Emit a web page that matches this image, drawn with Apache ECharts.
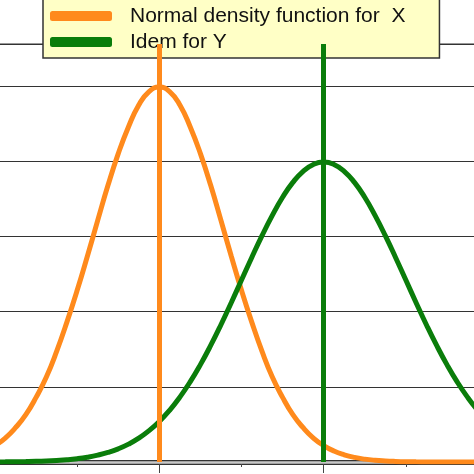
<!DOCTYPE html>
<html>
<head>
<meta charset="utf-8">
<script src="https://cdn.jsdelivr.net/npm/echarts@6/dist/echarts.min.js"></script>
<style>html,body{margin:0;padding:0;background:#fff}#c{width:474px;height:474px}</style>
</head>
<body>
<div id="c"></div>
<script>
// x positions where the curves were read
const xs = [0, 0.125, 0.25, 0.375, 0.5, 0.625, 0.75, 0.875, 1, 1.125, 1.25, 1.375, 1.5, 1.625, 1.75, 1.875, 2, 2.125, 2.25, 2.375, 2.5, 2.625, 2.75, 2.875, 3, 3.125, 3.25, 3.375, 3.5, 3.625, 3.75, 3.875, 4, 4.125, 4.25, 4.375, 4.5, 4.625, 4.75, 4.875, 5, 5.125, 5.25, 5.375, 5.5, 5.625, 5.75, 5.875, 6];
// Normal density function for X
const densX = [0.0219, 0.0318, 0.0456, 0.0630, 0.0860, 0.1130, 0.1471, 0.1860, 0.2283, 0.2740, 0.3214, 0.3680, 0.4102, 0.4460, 0.4750, 0.4928, 0.4987, 0.4928, 0.4750, 0.4460, 0.4102, 0.3680, 0.3214, 0.2740, 0.2283, 0.1860, 0.1471, 0.1130, 0.0860, 0.0630, 0.0456, 0.0318, 0.0219, 0.0146, 0.0096, 0.0061, 0.0038, 0.0023, 0.0014, 0.0008, 0.0004, 0.0002, 0.0001, 0.0000, 0.0000, 0.0000, 0.0000, 0.0000, 0.0000];
// Idem for Y
const densY = [0.0001, 0.0002, 0.0004, 0.0006, 0.0009, 0.0014, 0.0021, 0.0030, 0.0044, 0.0064, 0.0091, 0.0127, 0.0175, 0.0238, 0.0317, 0.0417, 0.0540, 0.0688, 0.0863, 0.1065, 0.1295, 0.1550, 0.1826, 0.2119, 0.2420, 0.2721, 0.3011, 0.3280, 0.3521, 0.3719, 0.3867, 0.3958, 0.3989, 0.3958, 0.3867, 0.3719, 0.3521, 0.3280, 0.3011, 0.2721, 0.2420, 0.2119, 0.1826, 0.1550, 0.1295, 0.1065, 0.0863, 0.0688, 0.0540];
const meanX = 2;
const meanY = 4;
const seriesNames = ['Normal density function for  X', 'Idem for Y'];

const chart = echarts.init(document.getElementById('c'), null, {renderer: 'canvas'});
const orange = '#ff8a1c';
const green = '#0a7d0a';
const axisCommon = {type: 'value', position: 'bottom', min: 0, max: 6, interval: 2, axisLabel: {show: false}, splitLine: {show: false}};
chart.setOption({
  animation: false,
  grid: {left: -5, right: -14, top: 44, bottom: 12, outerBoundsMode: 'none', containLabel: false,
         show: true, borderColor: '#333', borderWidth: 1.2, backgroundColor: 'transparent'},
  legend: {
    left: 43, top: -5, orient: 'vertical',
    itemWidth: 62, itemHeight: 10, itemGap: 4,
    icon: 'roundRect',
    backgroundColor: '#ffffc6', borderColor: '#333', borderWidth: 1.5, borderRadius: 0,
    padding: [10, 34, 5, 7],
    textStyle: {fontSize: 21, fontFamily: 'Liberation Sans', color: '#111', lineHeight: 22, padding: [0, 0, 0, 13]},
    data: seriesNames
  },
  xAxis: [
    Object.assign({}, axisCommon, {
      z: 1,
      axisLine: {show: true, lineStyle: {color: '#333', width: 5}},
      axisTick: {show: true, length: 11, lineStyle: {color: '#444', width: 1}},
      minorTick: {show: true, splitNumber: 2, length: 5, lineStyle: {color: '#444', width: 1}}
    }),
    Object.assign({}, axisCommon, {
      z: 2,
      axisLine: {show: true, lineStyle: {color: '#c8c8c8', width: 2.5}},
      axisTick: {show: false}
    })
  ],
  yAxis: {
    type: 'value', min: 0, max: 0.556, interval: 0.1,
    axisLine: {show: false}, axisTick: {show: false}, axisLabel: {show: false},
    splitLine: {show: true, lineStyle: {color: '#333', width: 1.2}}
  },
  series: [
    {
      name: seriesNames[0], type: 'line', smooth: true, showSymbol: false,
      data: xs.map((x, i) => [x, densX[i]]),
      lineStyle: {color: orange, width: 5}, itemStyle: {color: orange}, z: 3,
      markLine: {silent: true, symbol: 'none', label: {show: false},
        lineStyle: {color: orange, width: 5, type: 'solid'}, data: [{xAxis: meanX}]}
    },
    {
      name: seriesNames[1], type: 'line', smooth: true, showSymbol: false,
      data: xs.map((x, i) => [x, densY[i]]),
      lineStyle: {color: green, width: 5}, itemStyle: {color: green}, z: 4,
      markLine: {silent: true, symbol: 'none', label: {show: false},
        lineStyle: {color: green, width: 5, type: 'solid'}, data: [{xAxis: meanY}]}
    }
  ]
});
</script>
</body>
</html>
